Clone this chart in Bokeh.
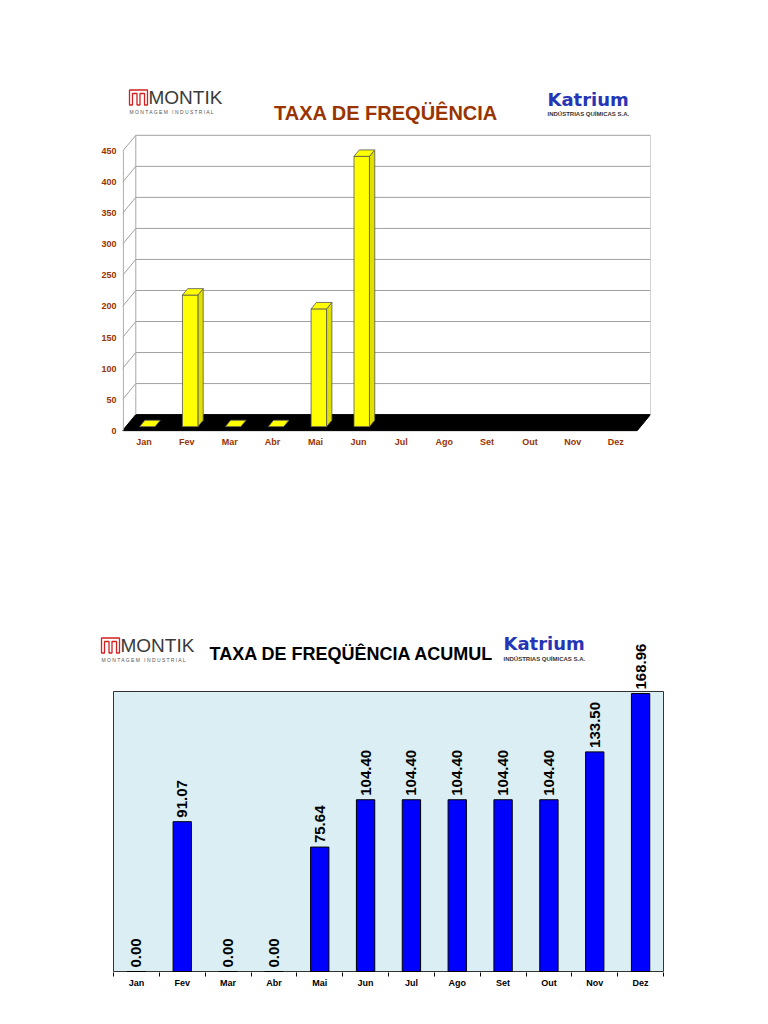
import math
from bokeh.plotting import figure
from bokeh.models import Range1d, FixedTicker, LabelSet, ColumnDataSource
from bokeh.embed import file_html
from bokeh.resources import INLINE
from bokeh.core.properties import value

# ---------------- data ----------------
months = ["Jan", "Fev", "Mar", "Abr", "Mai", "Jun", "Jul", "Ago", "Set", "Out", "Nov", "Dez"]
taxa_mensal = [0.0, 212.0, 0.0, 0.0, 189.7, 435.5, None, None, None, None, None, None]
taxa_acumulada = [0.00, 91.07, 0.00, 0.00, 75.64, 104.40, 104.40, 104.40, 104.40, 104.40, 133.50, 168.96]
y_ticks_mensal = [0, 50, 100, 150, 200, 250, 300, 350, 400, 450]
title_mensal = "TAXA DE FREQÜÊNCIA"
title_acumulada = "TAXA DE FREQÜÊNCIA ACUMUL"
y_max_acumulada = 170.2

centers = [i + 0.5 for i in range(len(months))]
overrides = {c: m for c, m in zip(centers, months)}

BROWN = "#993300"
W = 760

# ---------------- chart 1 : 3D-like columns ----------------
DX, DY = 0.31, 25.8          # depth offset (x units, y units)
F0, F1 = 0.25, 0.65          # bar depth fractions
HW = 0.18                    # bar half width
PX1 = 528 / (12 + DX)        # pixels per x unit
PY1 = 0.6207                 # pixels per y unit
L1, B1, T1 = 122, 432, 80    # frame left / bottom / top (page px)

p1 = figure(width=W, height=470, x_range=Range1d(0, 12 + DX),
            y_range=Range1d(-3, -3 + (B1 - T1) / PY1),
            output_backend="svg", toolbar_location=None,
            min_border_left=L1, min_border_right=W - L1 - 528, min_border_top=T1, min_border_bottom=470 - B1)
p1.xgrid.visible = False
p1.ygrid.visible = False
p1.outline_line_color = None
p1.background_fill_color = "white"
p1.border_fill_color = "white"


def fx1(px):
    return (px - L1) / PX1


def fy1(py):
    return -3 + (B1 - py) / PY1


# floor
p1.patch([0, 12, 12 + DX, DX], [0, 0, DY, DY], fill_color="black", line_color="black")
# back wall grid lines
grid_vals = [v for v in y_ticks_mensal if v > 0]
n = len(grid_vals)
p1.segment(x0=[DX] * n, x1=[12 + DX] * n, y0=[v + DY for v in grid_vals], y1=[v + DY for v in grid_vals],
           line_color="#a0a0a0", line_width=1)
# left wall diagonals and verticals
p1.segment(x0=[0] * n, x1=[DX] * n, y0=grid_vals, y1=[v + DY for v in grid_vals],
           line_color="#a0a0a0", line_width=1)
top_v = max(y_ticks_mensal)
p1.segment(x0=[0.02, DX, 12 + DX], x1=[0.02, DX, 12 + DX],
           y0=[0, DY, DY], y1=[top_v, top_v + DY, top_v + DY],
           line_color="#a8a8a8", line_width=1)

front_l, front_r, front_b, front_t = [], [], [], []
side_xs, side_ys, top_xs, top_ys = [], [], [], []
for c, v in zip(centers, taxa_mensal):
    if v is None:
        continue
    xl, xr = c - HW, c + HW
    top_xs.append([xl + F0 * DX, xr + F0 * DX, xr + F1 * DX, xl + F1 * DX])
    top_ys.append([v + F0 * DY, v + F0 * DY, v + F1 * DY, v + F1 * DY])
    if v > 0:
        front_l.append(xl + F0 * DX)
        front_r.append(xr + F0 * DX)
        front_b.append(F0 * DY)
        front_t.append(v + F0 * DY)
        side_xs.append([xr + F0 * DX, xr + F1 * DX, xr + F1 * DX, xr + F0 * DX])
        side_ys.append([F0 * DY, F1 * DY, v + F1 * DY, v + F0 * DY])

p1.patches(side_xs, side_ys, fill_color="#e0e000", line_color="#555555", line_width=0.8)
p1.quad(left=front_l, right=front_r, bottom=front_b, top=front_t,
        fill_color="#ffff00", line_color="#555555", line_width=0.8)
p1.patches(top_xs, top_ys, fill_color="#ffff00", line_color="#555555", line_width=0.8)

p1.yaxis.ticker = FixedTicker(ticks=y_ticks_mensal)
p1.yaxis.axis_line_color = None
p1.yaxis.major_tick_line_color = None
p1.yaxis.minor_tick_line_color = None
p1.yaxis.major_tick_out = 0
p1.yaxis.major_tick_in = 0
p1.yaxis.major_label_standoff = 6
p1.yaxis.major_label_text_font = "Liberation Sans"
p1.yaxis.major_label_text_font_size = "9px"
p1.yaxis.major_label_text_font_style = "bold"
p1.yaxis.major_label_text_color = BROWN

p1.xaxis.ticker = FixedTicker(ticks=centers)
p1.xaxis.major_label_overrides = overrides
p1.xaxis.axis_line_color = None
p1.xaxis.major_tick_line_color = None
p1.xaxis.minor_tick_line_color = None
p1.xaxis.major_tick_out = 0
p1.xaxis.major_tick_in = 0
p1.xaxis.major_label_standoff = 4
p1.xaxis.major_label_text_font = "Liberation Sans"
p1.xaxis.major_label_text_font_size = "9px"
p1.xaxis.major_label_text_font_style = "bold"
p1.xaxis.major_label_text_color = BROWN

# ---------------- chart 2 : cumulative ----------------
PX2 = 550 / 12
PY2 = 280 / y_max_acumulada
L2, R2, T2, B2 = 95, 671, 475, 972   # frame edges (page px)
X0_2 = 113                            # page x of category 0 edge
Y0_2 = 971                            # page y of value 0
TOP2 = 470                            # page y of figure top

p2 = figure(width=W, height=531,
            x_range=Range1d((L2 - X0_2) / PX2, (R2 - X0_2) / PX2),
            y_range=Range1d((Y0_2 - B2) / PY2, (Y0_2 - T2) / PY2),
            output_backend="svg", toolbar_location=None,
            min_border_left=L2, min_border_right=W - R2, min_border_top=T2 - TOP2,
            min_border_bottom=531 - (B2 - TOP2))
p2.xgrid.visible = False
p2.ygrid.visible = False
p2.yaxis.visible = False
p2.background_fill_color = "white"
p2.border_fill_color = "white"
p2.outline_line_color = None


def fx2(px):
    return (px - X0_2) / PX2


def fy2(py):
    return (Y0_2 - py) / PY2


# plot area
p2.quad(left=[0], right=[len(months)], bottom=[0], top=[y_max_acumulada],
        fill_color="#daeef3", line_color="#333333", line_width=1)

src2 = ColumnDataSource(dict(x=centers, top=taxa_acumulada,
                             label=["%.2f" % v for v in taxa_acumulada]))
p2.vbar(x="x", top="top", width=0.4, source=src2, fill_color="#0000ff", line_color="black", line_width=1)
p2.add_layout(LabelSet(x="x", y="top", text="label", source=src2, angle=math.pi / 2,
                       y_offset=4, text_align="left", text_baseline="middle",
                       text_font=value("Liberation Sans"), text_font_size="15px",
                       text_font_style="bold", text_color="black"))

p2.xaxis.ticker = FixedTicker(ticks=centers, minor_ticks=list(range(len(months) + 1)))
p2.xaxis.major_label_overrides = overrides
p2.xaxis.axis_line_color = None
p2.xaxis.major_tick_line_color = None
p2.xaxis.major_tick_out = 0
p2.xaxis.major_tick_in = 0
p2.xaxis.minor_tick_line_color = "black"
p2.xaxis.minor_tick_in = 0
p2.xaxis.minor_tick_out = 4
p2.xaxis.major_label_standoff = 1
p2.xaxis.major_label_text_font = "Liberation Sans"
p2.xaxis.major_label_text_font_size = "9px"
p2.xaxis.major_label_text_font_style = "bold"
p2.xaxis.major_label_text_color = "black"


# ---------------- headers (logos + titles) ----------------
def add_header(p, fx, fy, mx, mc, kx, kc):
    # mx: left of MONTIK icon, mc: cap centre of "MONTIK"; kx/kc: same for "Katrium"
    icon = [(0, 15), (0, 0), (18, 0), (18, 15), (15, 15), (15, 3.5), (10.5, 3.5), (10.5, 15),
            (7.5, 15), (7.5, 3.5), (3, 3.5), (3, 15)]
    p.patch([fx(mx + a) for a, b in icon], [fy(mc - 7.5 + b) for a, b in icon],
            fill_alpha=0, line_color="#d42020", line_width=1.3)
    p.text(x=[fx(mx + 19)], y=[fy(mc)], text=["MONTIK"], text_font=value("Liberation Sans"),
           text_font_size="19px", text_color="#3a3a3a", text_align="left", text_baseline="middle")
    p.text(x=[fx(mx)], y=[fy(mc + 14.5)],
           text=["M O N T A G E M\u00a0\u00a0\u00a0I N D U S T R I A L"],
           text_font=value("Liberation Sans"), text_font_size="5px", text_color="#555555",
           text_align="left", text_baseline="middle")
    p.text(x=[fx(kx)], y=[fy(kc)], text=["Katrium"], text_font=value("DejaVu Sans"),
           text_font_size="18px", text_font_style="bold", text_color="#2535b5",
           text_align="left", text_baseline="middle")
    p.text(x=[fx(kx)], y=[fy(kc + 15)], text=["INDÚSTRIAS QUÍMICAS S.A."],
           text_font=value("Liberation Sans"), text_font_size="6px", text_font_style="bold",
           text_color="#333333", text_align="left", text_baseline="middle")


add_header(p1, fx1, fy1, 129, 97, 547, 98.5)
p1.text(x=[fx1(385.5)], y=[fy1(112)], text=[title_mensal], text_font=value("Liberation Sans"),
        text_font_size="20px", text_font_style="bold", text_color=BROWN,
        text_align="center", text_baseline="middle")

add_header(p2, fx2, fy2, 101, 645, 503, 643)
p2.text(x=[fx2(209)], y=[fy2(653.7)], text=[title_acumulada], text_font=value("Liberation Sans"),
        text_font_size="18px", text_font_style="bold", text_color="black",
        text_align="left", text_baseline="middle")

open("out.html", "w").write(file_html([p1, p2], INLINE))
